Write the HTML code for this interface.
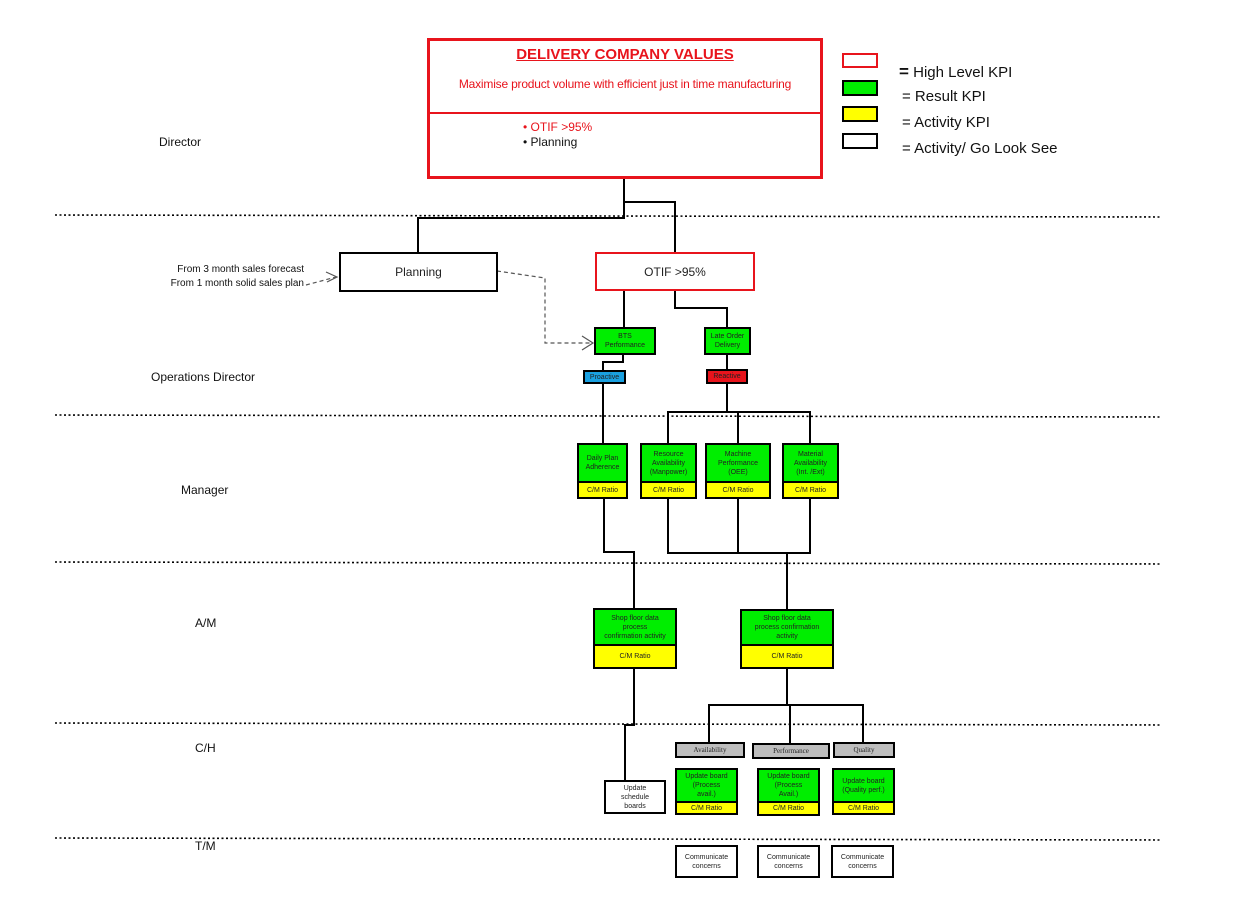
<!DOCTYPE html>
<html><head><style>
body{margin:0;width:1244px;height:903px;background:#fff;position:relative;font-family:"Liberation Sans",sans-serif;overflow:hidden}
.a{position:absolute;box-sizing:border-box}
.b{position:absolute;box-sizing:border-box;border:2px solid #000;display:flex;align-items:center;justify-content:center;text-align:center;font-size:7px;line-height:9px;color:#222}
.g{background:#00ee00}.y{background:#ffff00}
.t{position:absolute;font-size:12px;color:#111;white-space:nowrap}
</style></head><body>
<svg class="a" style="left:0;top:0" width="1244" height="903">
<g stroke="#000" stroke-width="1.6" stroke-dasharray="2,2.5" fill="none">
<line x1="55" y1="215" x2="1160" y2="217"/>
<line x1="55" y1="415" x2="1160" y2="417"/>
<line x1="55" y1="562" x2="1160" y2="564"/>
<line x1="55" y1="723" x2="1160" y2="725"/>
<line x1="55" y1="838" x2="1160" y2="840"/>
</g>
<g stroke="#000" stroke-width="2" fill="none">
<polyline points="624,178 624,218 418,218 418,252"/>
<polyline points="624,202 675,202 675,252"/>
<polyline points="624,290 624,327"/>
<polyline points="675,290 675,308 727,308 727,327"/>
<polyline points="623,354 623,362 603,362 603,370"/>
<line x1="727" y1="354" x2="727" y2="369"/>
<line x1="603" y1="383" x2="603" y2="443"/>
<polyline points="727,383 727,412"/>
<polyline points="668,443 668,412 810,412 810,443"/>
<line x1="738" y1="412" x2="738" y2="443"/>
<polyline points="604,498 604,552 634,552 634,608"/>
<polyline points="668,498 668,553 810,553 810,498"/>
<line x1="738" y1="498" x2="738" y2="553"/>
<line x1="787" y1="553" x2="787" y2="609"/>
<polyline points="634,668 634,725 625,725 625,780"/>
<polyline points="787,668 787,705 709,705 709,742"/>
<polyline points="787,705 863,705 863,742"/>
<line x1="790" y1="705" x2="790" y2="743"/>
</g>
<g stroke="#555" stroke-width="1.2" stroke-dasharray="4,3" fill="none">
<line x1="306" y1="285" x2="336" y2="277"/>
<polyline points="497,271 545,278 545,343 592,343"/>
</g>
<polyline points="326,272 337,277 327,282" stroke="#555" stroke-width="1.2" fill="none"/>
<polyline points="582,336 593,343 582,350" stroke="#555" stroke-width="1.2" fill="none"/>
</svg>

<div class="a" style="left:427px;top:38px;width:396px;height:141px;border:3px solid #e8141c"></div>
<div class="a" style="left:427px;top:112px;width:396px;height:2px;background:#e8141c"></div>
<div class="t" style="left:427px;width:396px;text-align:center;top:46px;font-size:15px;font-weight:bold;color:#e8141c;text-decoration:underline">DELIVERY COMPANY VALUES</div>
<div class="t" style="left:427px;width:396px;text-align:center;top:77px;color:#e8141c;letter-spacing:-0.2px">Maximise product volume with efficient just in time manufacturing</div>
<div class="t" style="left:523px;top:120px;color:#e8141c">• OTIF &gt;95%</div>
<div class="t" style="left:523px;top:135px">• Planning</div>

<div class="a" style="left:842px;top:53px;width:36px;height:15px;border:2px solid #e8141c"></div>
<div class="a g" style="left:842px;top:80px;width:36px;height:16px;border:2px solid #000"></div>
<div class="a y" style="left:842px;top:106px;width:36px;height:16px;border:2px solid #000"></div>
<div class="a" style="left:842px;top:133px;width:36px;height:16px;border:2px solid #000"></div>
<div class="t" style="left:899px;top:62px;font-size:15px"><b style="font-size:17px">=</b> High Level KPI</div>
<div class="t" style="left:902px;top:88px;font-size:15px">= Result KPI</div>
<div class="t" style="left:902px;top:114px;font-size:15px">= Activity KPI</div>
<div class="t" style="left:902px;top:140px;font-size:15px">= Activity/ Go Look See</div>

<div class="t" style="left:159px;top:135px">Director</div>
<div class="t" style="left:151px;top:370px">Operations Director</div>
<div class="t" style="left:181px;top:483px">Manager</div>
<div class="t" style="left:195px;top:616px">A/M</div>
<div class="t" style="left:195px;top:741px">C/H</div>
<div class="t" style="left:195px;top:839px">T/M</div>
<div class="t" style="left:100px;width:204px;text-align:right;top:263px;font-size:10px;line-height:14px">From 3 month sales forecast<br>From 1 month solid sales plan</div>

<div class="b" style="left:339px;top:252px;width:159px;height:40px;font-size:12px;line-height:14px">Planning</div>
<div class="b" style="left:595px;top:252px;width:160px;height:39px;font-size:12px;line-height:14px;border-color:#e8141c">OTIF &gt;95%</div>

<div class="b g" style="left:594px;top:327px;width:62px;height:28px">BTS<br>Performance</div>
<div class="b g" style="left:704px;top:327px;width:47px;height:28px">Late Order<br>Delivery</div>
<div class="b" style="left:583px;top:370px;width:43px;height:14px;background:#1aa0e0">Proactive</div>
<div class="b" style="left:706px;top:369px;width:42px;height:15px;background:#e8141c">Reactive</div>

<div class="b g" style="left:577px;top:443px;width:51px;height:40px">Daily Plan<br>Adherence</div>
<div class="b y" style="left:577px;top:481px;width:51px;height:18px">C/M Ratio</div>
<div class="b g" style="left:640px;top:443px;width:57px;height:40px">Resource<br>Availability<br>(Manpower)</div>
<div class="b y" style="left:640px;top:481px;width:57px;height:18px">C/M Ratio</div>
<div class="b g" style="left:705px;top:443px;width:66px;height:40px">Machine<br>Performance<br>(OEE)</div>
<div class="b y" style="left:705px;top:481px;width:66px;height:18px">C/M Ratio</div>
<div class="b g" style="left:782px;top:443px;width:57px;height:40px">Material<br>Availability<br>(Int. /Ext)</div>
<div class="b y" style="left:782px;top:481px;width:57px;height:18px">C/M Ratio</div>

<div class="b g" style="left:593px;top:608px;width:84px;height:38px">Shop floor data<br>process<br>confirmation activity</div>
<div class="b y" style="left:593px;top:644px;width:84px;height:25px">C/M Ratio</div>
<div class="b g" style="left:740px;top:609px;width:94px;height:37px">Shop floor data<br>process confirmation<br>activity</div>
<div class="b y" style="left:740px;top:644px;width:94px;height:25px">C/M Ratio</div>

<div class="b" style="left:675px;top:742px;width:70px;height:16px;background:#bdbdbd;font-family:'Liberation Serif',serif">Availability</div>
<div class="b" style="left:752px;top:743px;width:78px;height:16px;background:#bdbdbd;font-family:'Liberation Serif',serif">Performance</div>
<div class="b" style="left:833px;top:742px;width:62px;height:16px;background:#bdbdbd;font-family:'Liberation Serif',serif">Quality</div>

<div class="b" style="left:604px;top:780px;width:62px;height:34px">Update<br>schedule<br>boards</div>
<div class="b g" style="left:675px;top:768px;width:63px;height:35px">Update board<br>(Process<br>avail.)</div>
<div class="b y" style="left:675px;top:801px;width:63px;height:14px">C/M Ratio</div>
<div class="b g" style="left:757px;top:768px;width:63px;height:35px">Update board<br>(Process<br>Avail.)</div>
<div class="b y" style="left:757px;top:801px;width:63px;height:15px">C/M Ratio</div>
<div class="b g" style="left:832px;top:768px;width:63px;height:35px">Update board<br>(Quality perf.)</div>
<div class="b y" style="left:832px;top:801px;width:63px;height:14px">C/M Ratio</div>

<div class="b" style="left:675px;top:845px;width:63px;height:33px">Communicate<br>concerns</div>
<div class="b" style="left:757px;top:845px;width:63px;height:33px">Communicate<br>concerns</div>
<div class="b" style="left:831px;top:845px;width:63px;height:33px">Communicate<br>concerns</div>
</body></html>
